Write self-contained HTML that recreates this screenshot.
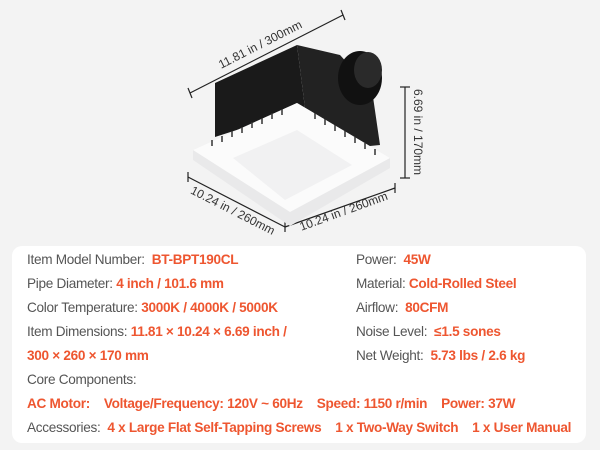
<!DOCTYPE html>
<html><head><style>
body{margin:0;width:600px;height:450px;background:#f3f3f3;overflow:hidden;position:relative;font-family:"Liberation Sans",sans-serif}
#p{position:absolute;left:12px;top:246px;width:574px;height:197px;background:#fff;border-radius:10px}
.r{position:absolute;font-size:13.6px;line-height:16px;color:#555;white-space:nowrap;letter-spacing:-0.3px}
.r b{color:#ee5630;font-weight:bold}
</style></head><body>
<svg width="600" height="245" style="position:absolute;left:0;top:0">
<g stroke="#222" stroke-width="1.2" fill="none">
<line x1="190" y1="93" x2="343" y2="15"/><line x1="188" y1="88" x2="192" y2="98"/><line x1="341" y1="10" x2="345" y2="20"/>
<line x1="405" y1="87" x2="405" y2="178"/><line x1="400" y1="87" x2="410" y2="87"/><line x1="400" y1="178" x2="410" y2="178"/>
<line x1="188" y1="177" x2="285" y2="227"/><line x1="285" y1="227" x2="395" y2="188"/>
<line x1="188" y1="172" x2="188" y2="182"/><line x1="285" y1="222" x2="285" y2="232"/><line x1="395" y1="183" x2="395" y2="193"/>
</g>
<polygon points="215,83 297,45 305,108 215,137" fill="#1a1a1a"/>
<polygon points="297,45 340,55 372,90 380,145 330,150 305,108" fill="#222"/>
<ellipse cx="360" cy="78" rx="22" ry="27" fill="#111"/>
<ellipse cx="368" cy="70" rx="14" ry="18" fill="#2a2a2a"/>
<polygon points="193,150 297,103 390,158 390,168 290,226 193,160" fill="#e9e9ea"/>
<polygon points="193,150 297,103 390,158 290,212" fill="#fbfbfb"/>
<polygon points="233,158 297,130 352,165 285,200" fill="#f1f1f2"/>
<g stroke="#333" stroke-width="1.5">
<line x1="212" y1="140" x2="212" y2="146"/><line x1="222" y1="136" x2="222" y2="142"/><line x1="232" y1="131" x2="232" y2="137"/><line x1="242" y1="127" x2="242" y2="133"/><line x1="252" y1="122" x2="252" y2="128"/><line x1="262" y1="118" x2="262" y2="124"/><line x1="272" y1="113" x2="272" y2="119"/><line x1="282" y1="109" x2="282" y2="115"/>
<line x1="315" y1="113" x2="315" y2="119"/><line x1="325" y1="119" x2="325" y2="125"/><line x1="335" y1="125" x2="335" y2="131"/><line x1="345" y1="131" x2="345" y2="137"/><line x1="355" y1="137" x2="355" y2="143"/><line x1="365" y1="143" x2="365" y2="149"/><line x1="375" y1="149" x2="375" y2="155"/>
</g>
<g font-family="Liberation Sans,sans-serif" font-size="12" fill="#333" text-anchor="middle">
<text transform="translate(262,48) rotate(-27)">11.81 in / 300mm</text>
<text transform="translate(414,132) rotate(90)">6.69 in / 170mm</text>
<text transform="translate(231,214) rotate(27)">10.24 in / 260mm</text>
<text transform="translate(345,215) rotate(-20)">10.24 in / 260mm</text>
</g>
</svg>
<div id="p"></div>
<div class="r" style="left:27px;top:252px">Item Model Number:&nbsp; <b>BT-BPT190CL</b></div>
<div class="r" style="left:27px;top:276px">Pipe Diameter: <b>4 inch / 101.6 mm</b></div>
<div class="r" style="left:27px;top:300px">Color Temperature: <b>3000K / 4000K / 5000K</b></div>
<div class="r" style="left:27px;top:324px">Item Dimensions: <b>11.81 × 10.24 × 6.69 inch /</b></div>
<div class="r" style="left:27px;top:348px"><b>300 × 260 × 170 mm</b></div>
<div class="r" style="left:27px;top:372px">Core Components:</div>
<div class="r" style="left:27px;top:396px"><b>AC Motor:&nbsp;&nbsp;&nbsp; Voltage/Frequency: 120V ~ 60Hz&nbsp;&nbsp;&nbsp; Speed: 1150 r/min&nbsp;&nbsp;&nbsp; Power: 37W</b></div>
<div class="r" style="left:27px;top:420px">Accessories:&nbsp; <b>4 x Large Flat Self-Tapping Screws&nbsp;&nbsp;&nbsp; 1 x Two-Way Switch&nbsp;&nbsp;&nbsp; 1 x User Manual</b></div>
<div class="r" style="left:356px;top:252px">Power:&nbsp; <b>45W</b></div>
<div class="r" style="left:356px;top:276px">Material: <b>Cold-Rolled Steel</b></div>
<div class="r" style="left:356px;top:300px">Airflow:&nbsp; <b>80CFM</b></div>
<div class="r" style="left:356px;top:324px">Noise Level:&nbsp; <b>≤1.5 sones</b></div>
<div class="r" style="left:356px;top:348px">Net Weight:&nbsp; <b>5.73 lbs / 2.6 kg</b></div>
</body></html>
